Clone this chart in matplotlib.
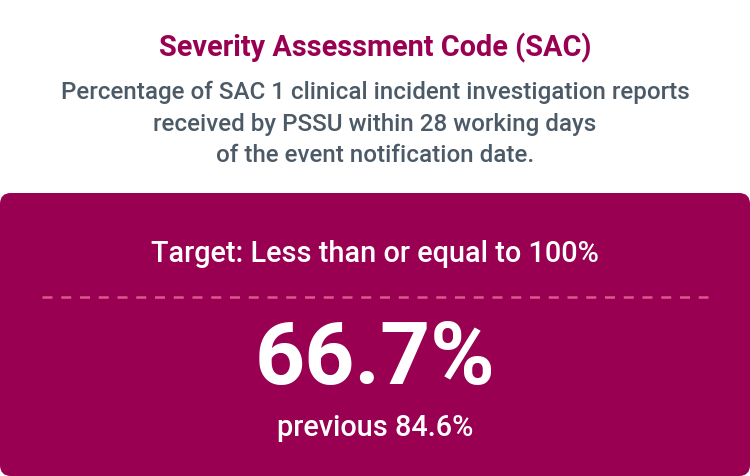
import matplotlib.pyplot as plt
from matplotlib.patches import FancyBboxPatch

title = 'Severity Assessment Code (SAC)'
subtitle = ['Percentage of SAC 1 clinical incident investigation reports',
            'received by PSSU within 28 working days',
            'of the event notification date.']
target = 100
current = 66.7
previous = 84.6

plt.rcParams['font.family'] = ['Roboto', 'DejaVu Sans']

W, H = 750, 476
fig = plt.figure(figsize=(7.5, 4.76), dpi=100)
ax = fig.add_axes([0, 0, 1, 1])
ax.set_xlim(0, W)
ax.set_ylim(H, 0)
ax.axis('off')

magenta = '#990052'

ax.text(375, 48, title, ha='center', va='center', fontsize=20.8,
        fontweight='bold', color=magenta)
for i, line in enumerate(subtitle):
    ax.text(375, 92 + i * 32, line, ha='center', va='center', fontsize=17.4,
            fontweight='medium', color='#4b5a66')

# card
card = FancyBboxPatch((0, 193), W, 283, boxstyle='round,pad=0,rounding_size=11',
                      fc=magenta, ec='none')
ax.add_patch(card)

ax.text(375, 254, f'Target: Less than or equal to {target}%', ha='center',
        va='center', fontsize=20.8, color='white', fontweight='medium')
ax.plot([42, 708], [297, 297], color='#db5a8e', lw=1.8, ls=(0, (4, 3.5)))
ax.text(375, 360, f'{current}%', ha='center', va='center', fontsize=63,
        fontweight='bold', color='white')
ax.text(375, 428, f'previous {previous}%', ha='center', va='center',
        fontsize=20.8, fontweight='medium', color='white')

fig.savefig('out.png', dpi=100)
